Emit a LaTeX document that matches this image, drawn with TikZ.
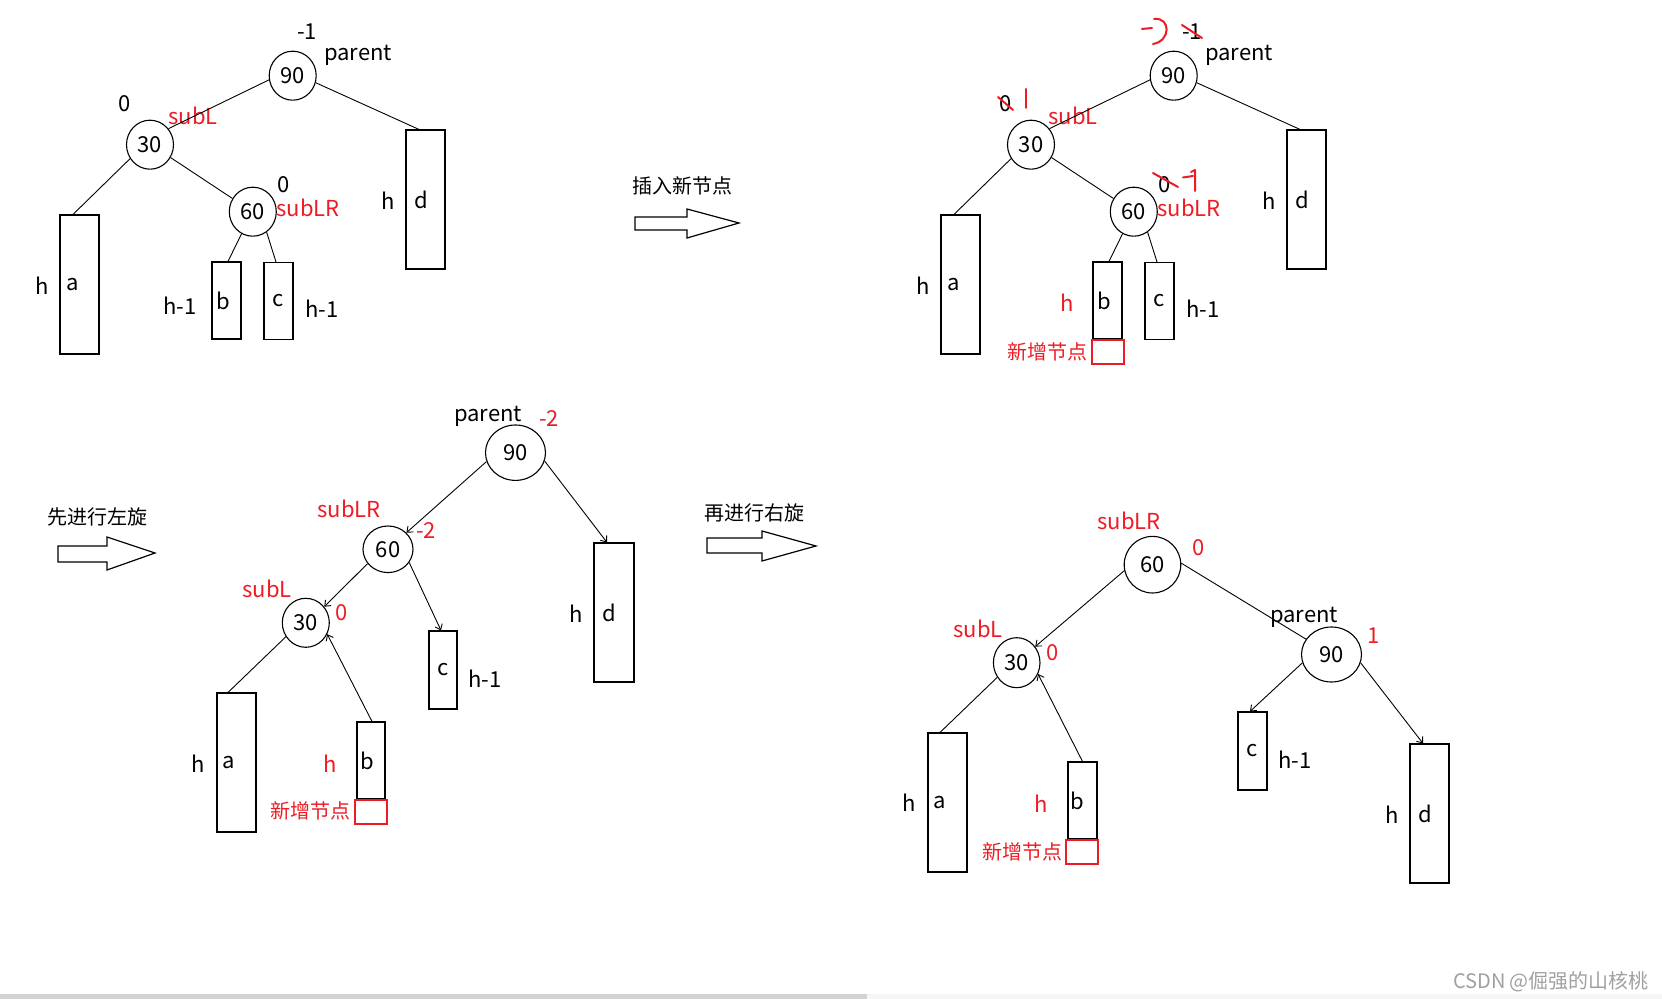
\documentclass[tikz,border=0pt]{standalone}
\usepackage{fontspec}
\setmainfont{Noto Sans CJK SC}
\usepackage{tikz}
\usetikzlibrary{shapes.geometric, arrows.meta}
\definecolor{markred}{RGB}{237, 28, 36}
\definecolor{markgray}{RGB}{160, 160, 160}

\begin{document}
\begin{tikzpicture}[x=0.5pt, y=-0.5pt,
    every node/.style={font=\fontsize{11}{13}\selectfont, inner sep=1pt},
    keynode/.style={draw, ellipse, inner sep=0pt, line width=0.55pt},
    keysmall/.style={keynode, minimum width=23.5pt, minimum height=24.5pt},
    bigbox/.style={draw, inner sep=0pt, line width=0.55pt, minimum width=19.5pt, minimum height=69.5pt},
    smallbox/.style={draw, inner sep=0pt, line width=0.55pt, minimum width=14.5pt, minimum height=38.5pt},
    newbox/.style={draw=markred, inner sep=0pt, line width=0.55pt, minimum width=16pt, minimum height=12pt},
    hot/.style={text=markred},
    cn/.style={font=\fontsize{10}{12}\selectfont},
    link/.style={line width=0.45pt},
    ptr/.style={link, -{Straight Barb[length=2.5pt, width=4pt]}},
    hollow/.style={line width=0.6pt, line join=miter},
    scribble/.style={markred, line width=1pt, line cap=round, line join=round}]

    \useasboundingbox (0,0) rectangle (1662,999);

    % Before insertion
    \node[keysmall] (p1k90) at (292.7,75.7) {90};
    \node[keysmall] (p1k30) at (150,144.7) {30};
    \node[keysmall] (p1k60) at (252.8,211.7) {60};
    \node[bigbox] (p1a) at (79.5,284.5) {a\kern7pt};
    \node[smallbox] (p1b) at (226.5,300.5) {b\kern3.5pt};
    \node[smallbox] (p1c) at (278.5,301) {c};
    \node[bigbox] (p1d) at (425.5,199.5) {d\kern4.5pt};

    \node (p1f90) at (307,32) {-1};
    \node (p1n90) at (358,55) {parent};
    \node (p1f30) at (125,104) {0};
    \node[hot] (p1n30) at (193,116) {subL};
    \node (p1f60) at (284,185) {0};
    \node[hot] (p1n60) at (308,208) {subLR};
    \node (p1ha) at (42,286) {h};
    \node (p1hb) at (180,306) {h-1};
    \node (p1hc) at (322,309) {h-1};
    \node (p1hd) at (388,201) {h};

    \draw[link] (p1k90.190) -- (p1k30.41);
    \draw[link] (p1k90.343) -- ([xshift=-3.25pt]p1d.north);
    \draw[link] (p1k30.215) -- ([xshift=-3.25pt]p1a.north);
    \draw[link] (p1k30.328) -- (p1k60.147);
    \draw[link] (p1k60.243) -- ([xshift=0.75pt]p1b.north);
    \draw[link] (p1k60.304) -- ([xshift=-1.25pt]p1c.north);

    % Step arrow 1
    \node[cn] (step1) at (682,186) {插入新节点};
    \draw[hollow] (635,217) -- (687,217) -- (687,209) -- (739,223) -- (687,238) -- (687,230) -- (635,230) -- cycle;

    % After insertion
    \node[keysmall] (p2k90) at (1173.7,75.7) {90};
    \node[keysmall] (p2k30) at (1031,144.7) {30};
    \node[keysmall] (p2k60) at (1133.8,211.7) {60};
    \node[bigbox] (p2a) at (960.5,284.5) {a\kern7pt};
    \node[smallbox] (p2b) at (1107.5,300.5) {b\kern3.5pt};
    \node[smallbox] (p2c) at (1159.5,301) {c};
    \node[bigbox] (p2d) at (1306.5,199.5) {d\kern4.5pt};
    \node[newbox] (p2new) at (1108,352) {};

    \node (p2f90) at (1192,32) {-1};
    \node (p2n90) at (1239,55) {parent};
    \node (p2f30) at (1006,104) {0};
    \node[hot] (p2n30) at (1073,116) {subL};
    \node (p2f60) at (1165,185) {0};
    \node[hot] (p2n60) at (1189,208) {subLR};
    \node (p2ha) at (923,286) {h};
    \node[hot] (p2hb) at (1067,303) {h};
    \node (p2hc) at (1203,309) {h-1};
    \node (p2hd) at (1269,201) {h};
    \node[cn, hot] (p2lnew) at (1047,352) {新增节点};

    \draw[link] (p2k90.190) -- (p2k30.41);
    \draw[link] (p2k90.343) -- ([xshift=-3.25pt]p2d.north);
    \draw[link] (p2k30.215) -- ([xshift=-3.25pt]p2a.north);
    \draw[link] (p2k30.328) -- (p2k60.147);
    \draw[link] (p2k60.243) -- ([xshift=0.75pt]p2b.north);
    \draw[link] (p2k60.304) -- ([xshift=-1.25pt]p2c.north);

    % hand marks
    \draw[scribble] (1142,29) -- (1152,28);
    \draw[scribble] (1154,19) .. controls (1171,17) and (1171,41) .. (1153,44);
    \draw[scribble] (1182,25) -- (1202,38);
    \draw[scribble] (998,97) -- (1013,110);
    \draw[scribble] (1026,89) -- (1026,108);
    \draw[scribble] (1153,173) -- (1178,187);
    \draw[scribble] (1183,177.5) -- (1193,176);
    \draw[scribble] (1191,172) -- (1195,170) -- (1195,191);

    % Step arrow 2
    \node[cn] (step2) at (97,517) {先进行左旋};
    \draw[hollow] (58,546) -- (107,546) -- (107,537) -- (155,553) -- (107,570) -- (107,562) -- (58,562) -- cycle;

    % After left rotation
    \node[keynode, minimum width=30pt, minimum height=27.7pt] (p3k90) at (515.5,452.7) {90};
    \node[keynode, minimum width=25pt, minimum height=23.3pt] (p3k60) at (388,549.3) {60};
    \node[keysmall] (p3k30) at (305.8,622.8) {30};
    \node[bigbox] (p3a) at (236.5,762.5) {a\kern7.5pt};
    \node[smallbox, minimum width=14pt] (p3b) at (371,760.5) {b\kern4pt};
    \node[smallbox, minimum width=14pt, minimum height=39pt] (p3c) at (443,670) {c};
    \node[bigbox, minimum width=20pt] (p3d) at (614,612.5) {d\kern5pt};
    \node[newbox] (p3new) at (371,812) {};

    \node (p3n90) at (488,416) {parent};
    \node[hot] (p3f90) at (549,419) {-2};
    \node[hot] (p3n60) at (349,509) {subLR};
    \node[hot] (p3f60) at (426,531) {-2};
    \node[hot] (p3n30) at (267,589) {subL};
    \node[hot] (p3f30) at (342,613) {0};
    \node (p3ha) at (198,764) {h};
    \node[hot] (p3hb) at (330,764) {h};
    \node (p3hc) at (485,679) {h-1};
    \node (p3hd) at (576,614) {h};
    \node[cn, hot] (p3lnew) at (310,811) {新增节点};

    \draw[ptr] (p3k90.197) -- (p3k60.42);
    \draw[ptr] (p3k90.344) -- ([xshift=-3.5pt]p3d.north);
    \draw[ptr] (p3k60.215) -- (p3k30.41);
    \draw[ptr] (p3k60.328) -- ([xshift=-1pt]p3c.north);
    \draw[link] (p3k30.215) -- ([xshift=-4.25pt]p3a.north);
    \draw[ptr] ([xshift=0.5pt]p3b.north) -- (p3k30.332);

    % Step arrow 3
    \node[cn] (step3) at (754,513) {再进行右旋};
    \draw[hollow] (707,538) -- (762,538) -- (762,531) -- (816,546) -- (762,561) -- (762,553) -- (707,553) -- cycle;

    % After right rotation
    \node[keynode, minimum width=28.3pt, minimum height=28.3pt] (p4k60) at (1152.5,564.7) {60};
    \node[keynode, minimum width=23.3pt, minimum height=25pt] (p4k30) at (1016.7,662.7) {30};
    \node[keynode, minimum width=30pt, minimum height=27.5pt] (p4k90) at (1331.5,654.5) {90};
    \node[bigbox] (p4a) at (947.5,802.5) {a\kern8pt};
    \node[smallbox] (p4b) at (1082.5,800.5) {b\kern5pt};
    \node[smallbox, minimum height=39pt] (p4c) at (1252.5,751) {c};
    \node[bigbox] (p4d) at (1429.5,813.5) {d\kern4.5pt};
    \node[newbox] (p4new) at (1082,852) {};

    \node[hot] (p4n60) at (1129,521) {subLR};
    \node[hot] (p4f60) at (1199,548) {0};
    \node[hot] (p4n30) at (978,629) {subL};
    \node[hot] (p4f30) at (1053,653) {0};
    \node (p4n90) at (1304,617) {parent};
    \node[hot] (p4f90) at (1374,636) {1};
    \node (p4ha) at (909,803) {h};
    \node[hot] (p4hb) at (1041,804) {h};
    \node (p4hc) at (1295,760) {h-1};
    \node (p4hd) at (1392,815) {h};
    \node[cn, hot] (p4lnew) at (1022,852) {新增节点};

    \draw[ptr] (p4k60.192) -- (p4k30.41);
    \draw[link] (p4k60.3) -- (p4k90.149);
    \draw[link] (p4k30.217) -- ([xshift=-3.75pt]p4a.north);
    \draw[ptr] (p4b.north) -- (p4k30.332);
    \draw[ptr] (p4k90.196) -- ([xshift=-1.25pt]p4c.north);
    \draw[ptr] (p4k90.344) -- ([xshift=-3.25pt]p4d.north);

    % watermark and bar
    \node[cn, text=markgray] (mark) at (1551,982) {CSDN @倔强的山核桃};
    \fill[gray!35] (0,994) rectangle (867,999);
    \fill[gray!8] (867,994) rectangle (1662,999);
\end{tikzpicture}
\end{document}
